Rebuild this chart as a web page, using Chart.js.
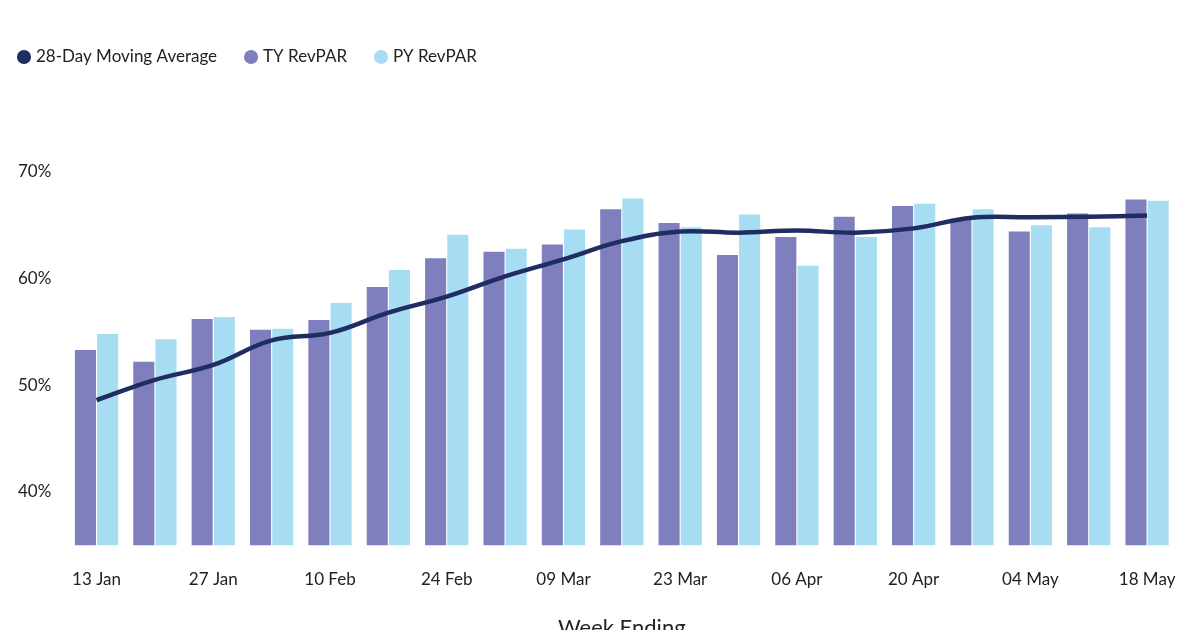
<!DOCTYPE html>
<html><head><meta charset="utf-8">
<script src="https://cdn.jsdelivr.net/npm/chart.js@4/dist/chart.umd.min.js"></script>
<style>html,body{margin:0;padding:0;overflow:hidden;background:#fff;width:1200px;height:630px}#wrap{width:1200px;height:641px;position:relative}</style>
</head><body><div id="wrap"><canvas id="c"></canvas></div>
<script>
const weeks = ['13 Jan','20 Jan','27 Jan','03 Feb','10 Feb','17 Feb','24 Feb','02 Mar','09 Mar','16 Mar','23 Mar','30 Mar','06 Apr','13 Apr','20 Apr','27 Apr','04 May','11 May','18 May'];
const tyRevpar = [53.3,52.2,56.2,55.2,56.1,59.2,61.9,62.5,63.2,66.5,65.2,62.2,63.9,65.8,66.8,65.6,64.4,66.1,67.4];
const pyRevpar = [54.8,54.3,56.4,55.3,57.7,60.8,64.1,62.8,64.6,67.5,64.8,66.0,61.2,63.9,67.0,66.5,65.0,64.8,67.3];
const movingAvg = [48.6,50.5,51.9,54.2,54.9,56.8,58.3,60.2,61.8,63.5,64.4,64.3,64.5,64.3,64.7,65.7,65.75,65.8,65.9];
const yTicks = [40,50,60,70];

const FONT = "Lato, 'Noto Sans', sans-serif";
const legendTweak = {id:'legendTweak',
  beforeInit(chart){const f=chart.legend.fit; chart.legend.fit=function(){f.bind(chart.legend)(); this.height+=43;};},
  afterLayout(chart){chart.legend.left -= 12; chart.legend.right -= 12;}
};

new Chart(document.getElementById('c'), {
  data: {
    labels: weeks,
    datasets: [
      {type:'line', label:'28-Day Moving Average', data: movingAvg, borderColor:'#1f2d63', backgroundColor:'#1f2d63', borderWidth:4.5, tension:0.4, pointRadius:0, order:0, borderCapStyle:'butt'},
      {type:'bar', label:'TY RevPAR', data: tyRevpar, backgroundColor:'#7f7fbd', borderWidth:0, barPercentage:0.95, categoryPercentage:0.76, order:1},
      {type:'bar', label:'PY RevPAR', data: pyRevpar, backgroundColor:'#a7ddf3', borderWidth:0, barPercentage:0.95, categoryPercentage:0.76, order:1}
    ]
  },
  options: {
    responsive:true, maintainAspectRatio:false, animation:false,
    layout:{padding:{left:2, right:23, top:18, bottom:0}},
    plugins:{
      tooltip:{enabled:false},
      legend:{position:'top', align:'start', labels:{usePointStyle:true, pointStyle:'circle', boxWidth:7, boxHeight:10, padding:30.5, color:'#222', font:{family:FONT, size:17},
        generateLabels:function(chart){
          return Chart.defaults.plugins.legend.labels.generateLabels(chart).map(function(it){
            const ds = chart.data.datasets[it.datasetIndex];
            it.lineWidth = 0; it.fillStyle = ds.backgroundColor; it.strokeStyle = ds.backgroundColor; it.pointStyle = 'circle';
            return it;
          });
        }}}
    },
    scales:{
      x:{grid:{display:false, drawTicks:false}, border:{display:false},
        ticks:{color:'#222', font:{family:FONT, size:17}, padding:24, autoSkip:false, maxRotation:0,
          callback:function(v,i){return i%2===0 ? weeks[i] : '';}},
        title:{display:true, text:'Week Ending', color:'#222', font:{family:FONT, size:22}, padding:{top:1,bottom:0}}},
      y:{min:35, max:75, grid:{display:false, drawTicks:false}, border:{display:false},
        afterBuildTicks:function(s){s.ticks = yTicks.map(v=>({value:v}));},
        ticks:{color:'#222', font:{family:FONT, size:17}, padding:16, callback:v=>v+'%'}}
    }
  },
  plugins:[legendTweak]
});
</script></body></html>
